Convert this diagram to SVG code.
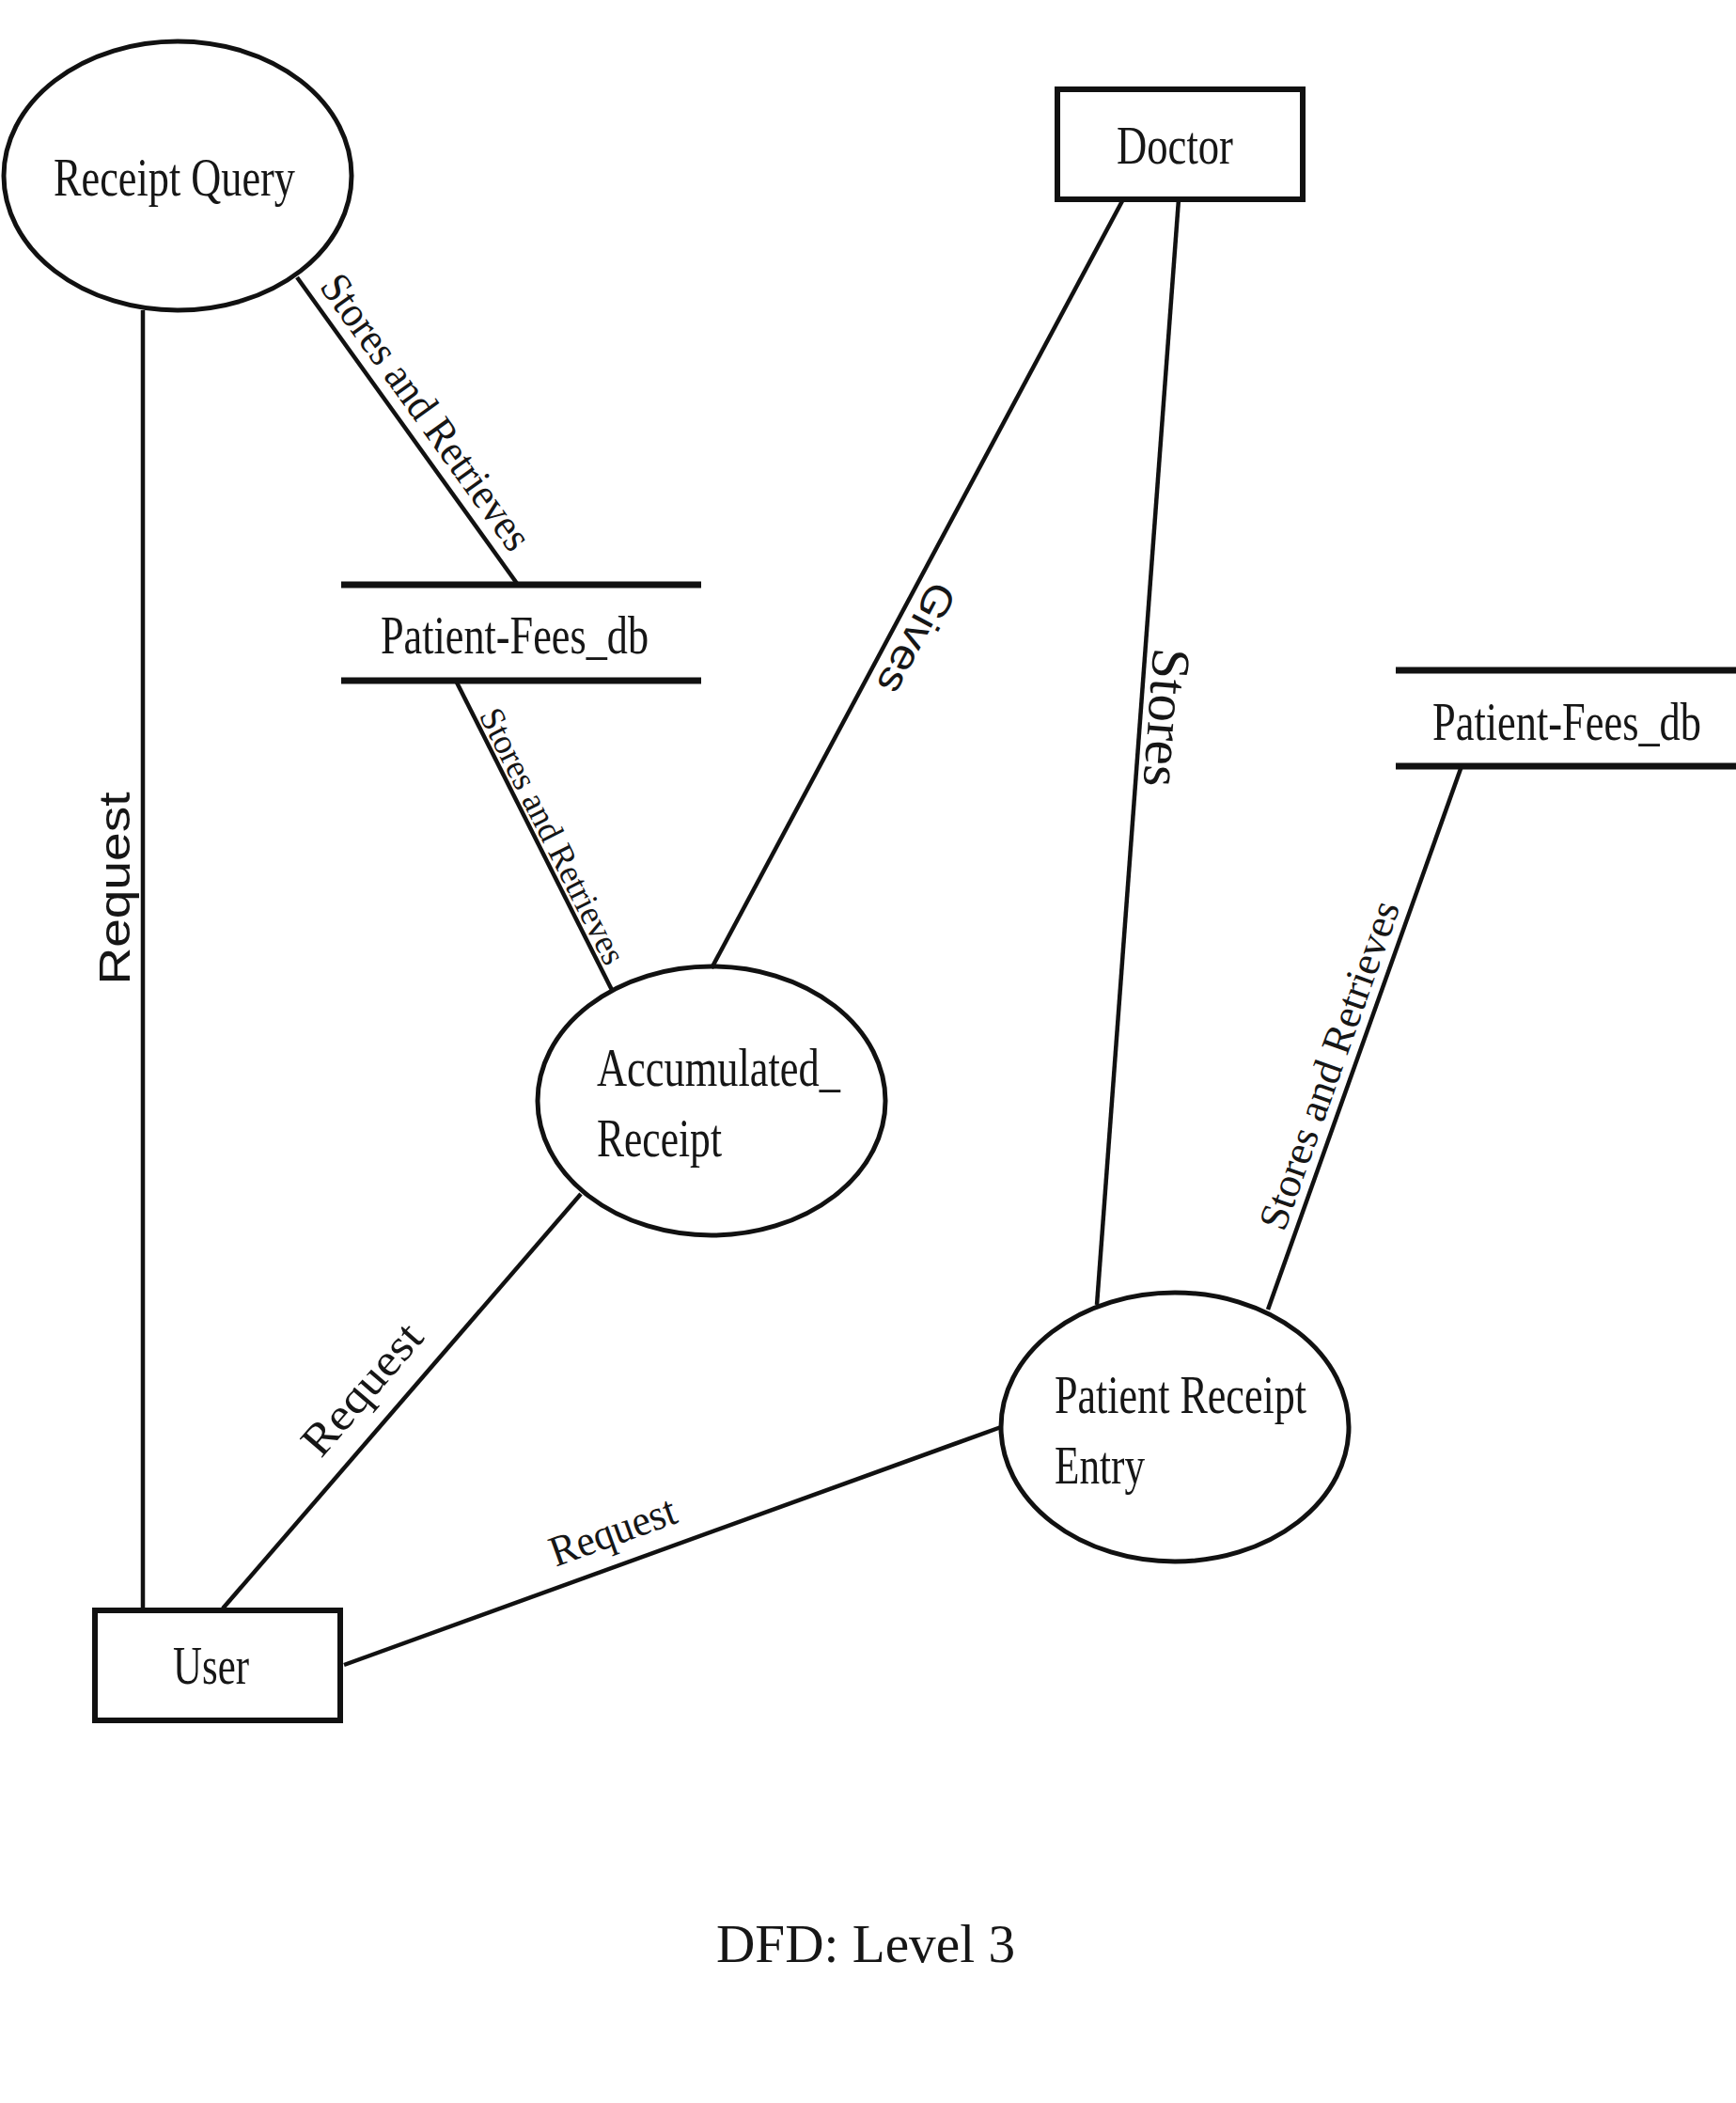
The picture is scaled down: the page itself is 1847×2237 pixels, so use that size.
<svg xmlns="http://www.w3.org/2000/svg" width="1847" height="2237" viewBox="0 0 1847 2237">
<style>
.proc{fill:none;stroke:#111;stroke-width:5}
.ent{fill:none;stroke:#111;stroke-width:6}
.store{stroke:#111;stroke-width:7}
.flow{stroke:#111;stroke-width:4.5;fill:none}
.t{font-family:"Liberation Serif","Times New Roman",serif;fill:#161616}
.n{font-size:56px}
.s{font-family:"Liberation Sans",Arial,sans-serif;fill:#161616}
</style>
<rect width="1847" height="2237" fill="#fff"/>
<g id="connectors">
  <line class="flow" x1="152" y1="330" x2="152" y2="1712"/>
  <line class="flow" x1="316" y1="295" x2="551" y2="622"/>
  <line class="flow" x1="485" y1="724" x2="652" y2="1055"/>
  <line class="flow" x1="1195" y1="212" x2="757" y2="1030"/>
  <line class="flow" x1="1254" y1="212" x2="1167" y2="1388"/>
  <line class="flow" x1="1555" y1="815" x2="1349" y2="1393"/>
  <line class="flow" x1="618" y1="1270" x2="237" y2="1711"/>
  <line class="flow" x1="366" y1="1771" x2="1065" y2="1518"/>
  <text class="s" font-size="46" text-anchor="middle" textLength="205" lengthAdjust="spacingAndGlyphs" transform="translate(138,945) rotate(-90)">Request</text>
  <text class="t" font-size="46" text-anchor="middle" textLength="350" lengthAdjust="spacingAndGlyphs" transform="translate(441,447) rotate(54.3)">Stores and Retrieves</text>
  <text class="t" font-size="37" text-anchor="middle" textLength="300" lengthAdjust="spacingAndGlyphs" transform="translate(577,895) rotate(63.2)">Stores and Retrieves</text>
  <text class="s" font-size="44" text-anchor="middle" textLength="128" lengthAdjust="spacingAndGlyphs" transform="translate(962,672) rotate(118.2)">Gives</text>
  <text class="t" font-size="58" text-anchor="middle" textLength="148" lengthAdjust="spacingAndGlyphs" transform="translate(1222,762) rotate(94.2)">Stores</text>
  <text class="t" font-size="44" text-anchor="middle" textLength="368" lengthAdjust="spacingAndGlyphs" transform="translate(1428,1138) rotate(-70.4)">Stores and Retrieves</text>
  <text class="t" font-size="48" text-anchor="middle" textLength="170" lengthAdjust="spacingAndGlyphs" transform="translate(397,1488) rotate(-49.2)">Request</text>
  <text class="t" font-size="46" text-anchor="middle" textLength="140" lengthAdjust="spacingAndGlyphs" transform="translate(657,1643) rotate(-19.9)">Request</text>
</g>
<g id="receipt-query">
  <ellipse class="proc" cx="189" cy="187" rx="185" ry="143"/>
  <text class="t n" x="57" y="208" textLength="257" lengthAdjust="spacingAndGlyphs">Receipt Query</text>
</g>
<g id="doctor">
  <rect class="ent" x="1125" y="95" width="261" height="117"/>
  <text class="t n" x="1188" y="174" textLength="124" lengthAdjust="spacingAndGlyphs">Doctor</text>
</g>
<g id="patient-fees-db-1">
  <line class="store" x1="363" y1="622" x2="746" y2="622"/>
  <line class="store" x1="363" y1="724" x2="746" y2="724"/>
  <text class="t n" x="405" y="695" textLength="285" lengthAdjust="spacingAndGlyphs">Patient-Fees_db</text>
</g>
<g id="patient-fees-db-2">
  <line class="store" x1="1485" y1="713" x2="1847" y2="713"/>
  <line class="store" x1="1485" y1="815" x2="1847" y2="815"/>
  <text class="t n" x="1524" y="787" textLength="286" lengthAdjust="spacingAndGlyphs">Patient-Fees_db</text>
</g>
<g id="accumulated-receipt">
  <ellipse class="proc" cx="757" cy="1171" rx="185" ry="143"/>
  <text class="t n" x="635" y="1155" textLength="259" lengthAdjust="spacingAndGlyphs">Accumulated_</text>
  <text class="t n" x="635" y="1230" textLength="133" lengthAdjust="spacingAndGlyphs">Receipt</text>
</g>
<g id="patient-receipt-entry">
  <ellipse class="proc" cx="1250" cy="1518" rx="185" ry="143"/>
  <text class="t n" x="1122" y="1503" textLength="268" lengthAdjust="spacingAndGlyphs">Patient Receipt</text>
  <text class="t n" x="1122" y="1578" textLength="96" lengthAdjust="spacingAndGlyphs">Entry</text>
</g>
<g id="user">
  <rect class="ent" x="101" y="1713" width="261" height="117"/>
  <text class="t n" x="184" y="1791" textLength="81" lengthAdjust="spacingAndGlyphs">User</text>
</g>
<text id="caption" class="t" font-size="58" x="762" y="2087" textLength="318" lengthAdjust="spacingAndGlyphs" fill="#000">DFD: Level 3</text>
</svg>
